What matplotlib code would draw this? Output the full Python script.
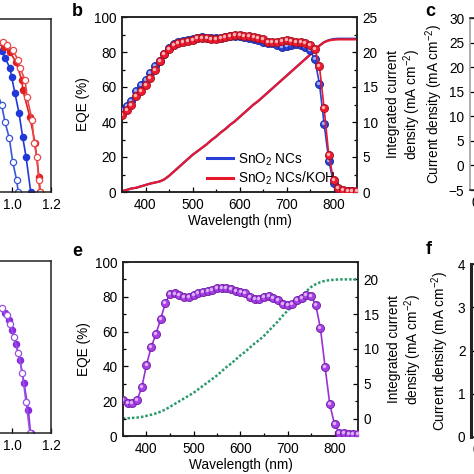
import numpy as np
import matplotlib
matplotlib.use('Agg')
import matplotlib.pyplot as plt
from matplotlib import transforms
from matplotlib.ticker import MultipleLocator

plt.rcParams['font.family'] = ['Liberation Sans', 'DejaVu Sans']
plt.rcParams['font.size'] = 9.8
plt.rcParams['mathtext.fontset'] = 'custom'
plt.rcParams['mathtext.rm'] = 'Liberation Sans'

# ---- panel a / d: J-V curves (only the high-voltage end is visible)
v_red_fwd = [0.0, 0.2, 0.4, 0.6, 0.8, 0.9, 0.96, 0.99, 1.02, 1.05, 1.056, 1.092, 1.118, 1.138, 1.145]
j_red_fwd = [22.3, 22.25, 22.2, 22.1, 21.9, 21.7, 21.0, 20.2, 18.8, 16.2, 14.7, 10.8, 7.1, 2.2, 0.0]
v_red_rev = [0.0, 0.2, 0.4, 0.6, 0.8, 0.9, 0.952, 0.974, 1.004, 1.031, 1.041, 1.067, 1.077, 1.103, 1.113, 1.128, 1.138, 1.142]
j_red_rev = [22.4, 22.35, 22.3, 22.2, 22.0, 21.9, 21.7, 21.2, 20.5, 19.1, 17.9, 16.2, 13.7, 10.4, 7.1, 5.1, 1.7, 0.0]
v_blue_fwd = [0.0, 0.2, 0.4, 0.6, 0.8, 0.9, 0.947, 0.964, 0.990, 0.998, 1.015, 1.036, 1.055, 1.072, 1.096]
j_blue_fwd = [21.8, 21.7, 21.6, 21.4, 21.2, 21.0, 20.4, 19.4, 17.9, 16.6, 14.3, 11.4, 7.9, 5.1, 0.0]
v_blue_rev = [0.0, 0.2, 0.4, 0.6, 0.8, 0.9, 0.947, 0.964, 0.986, 1.004, 1.024, 1.032]
j_blue_rev = [21.5, 21.2, 20.8, 20.0, 18.0, 16.0, 12.6, 10.1, 7.8, 4.3, 1.7, 0.0]
v_pur_fwd = [0.0, 0.2, 0.4, 0.6, 0.8, 0.9, 0.964, 0.986, 0.998, 1.019, 1.041, 1.062, 1.084, 1.095]
j_pur_fwd = [19.6, 19.55, 19.5, 19.4, 19.2, 18.9, 17.5, 16.4, 14.9, 13.0, 10.6, 7.2, 3.3, 0.0]
v_pur_rev = [0.0, 0.2, 0.4, 0.6, 0.8, 0.9, 0.947, 0.973, 0.990, 1.010, 1.032, 1.053, 1.072, 1.092]
j_pur_rev = [19.6, 19.55, 19.5, 19.4, 19.2, 18.9, 18.1, 17.1, 15.9, 13.9, 11.7, 8.7, 4.5, 0.0]
voltage_ticks = [0.0, 0.2, 0.4, 0.6, 0.8, 1.0, 1.2]
voltage_labels = ['', '', '', '', '', '1.0', '1.2']

# ---- panel b / e: EQE spectra and integrated current
wavelength = list(range(350, 860, 10))
eqe_sno2 = [47, 49, 52, 58, 61, 64, 68, 72, 75, 79, 82.5, 84.5, 85.5, 86.5, 87, 87.5, 88, 88.5, 88, 88,
            88, 88, 88.5, 89, 89, 89, 88.5, 88, 87.5, 87, 86, 85, 85, 84, 83, 83.5, 84, 84.5, 84, 83,
            81, 76, 62, 39, 18, 5, 1.5, 0.5, 0.3, 0.3, 0.3]
eqe_koh = [44, 47, 50, 55, 58, 61, 65, 70, 75, 79, 82, 84, 85, 86, 86.5, 87, 88, 88, 88, 87.5,
           87.5, 88, 88.5, 89, 89.5, 89.5, 89, 89, 88.5, 88, 87.5, 86, 85.5, 85.5, 86.5, 87, 86.5, 86, 85.5, 85,
           84, 82, 72, 48, 21, 7, 2.5, 1, 0.5, 0.5, 0.5]
jint_sno2 = [0.1, 0.3, 0.5, 0.6, 0.8, 1.0, 1.2, 1.35, 1.5, 1.8, 2.3, 2.9, 3.5, 4.1, 4.7, 5.3, 5.8, 6.3, 6.8, 7.4,
             7.9, 8.5, 9.0, 9.6, 10.1, 10.7, 11.3, 11.9, 12.5, 13.0, 13.6, 14.2, 14.8, 15.4, 16.0, 16.6, 17.2, 17.8, 18.4, 19.0,
             19.6, 20.3, 20.9, 21.4, 21.7, 21.85, 21.9, 21.9, 21.9, 21.9, 21.9]
jint_koh = [0.1, 0.3, 0.5, 0.6, 0.8, 1.0, 1.2, 1.35, 1.5, 1.8, 2.3, 2.9, 3.5, 4.1, 4.7, 5.3, 5.8, 6.3, 6.8, 7.4,
            7.9, 8.5, 9.0, 9.6, 10.1, 10.7, 11.3, 11.9, 12.5, 13.0, 13.6, 14.2, 14.8, 15.4, 16.0, 16.6, 17.2, 17.8, 18.4, 19.0,
            19.6, 20.3, 20.9, 21.4, 21.65, 21.75, 21.8, 21.8, 21.8, 21.8, 21.8]
eqe_e = [20.7, 19, 19, 20.7, 28, 41, 51, 58.6, 67, 76.4, 81.6, 81.9, 81, 80, 80, 81, 82, 83, 83.5, 84,
         85, 85, 85, 84.5, 83.5, 83, 82, 80, 79, 79, 80, 80.5, 79.5, 78, 76, 75.5, 76, 78, 79.5, 81,
         80.5, 75.5, 62, 39.6, 18.2, 6.8, 2, 1.5, 1, 1, 1]
jint_e = [0.0, 0.05, 0.1, 0.15, 0.25, 0.4, 0.55, 0.75, 1.0, 1.3, 1.7, 2.1, 2.5, 2.9, 3.3, 3.7, 4.2, 4.7, 5.2, 5.7,
          6.2, 6.8, 7.4, 7.9, 8.5, 9.1, 9.6, 10.2, 10.8, 11.3, 11.9, 12.6, 13.3, 14.0, 14.8, 15.5, 16.2, 16.9, 17.6, 18.3,
          18.9, 19.3, 19.6, 19.8, 19.9, 19.95, 20.0, 20.0, 20.0, 20.0, 20.0]

legend_labels = ['SnO$_2$ NCs', 'SnO$_2$ NCs/KOH']

W = 474.0
def box(left, top, right, bottom):
    return [left / W, (W - bottom) / W, (right - left) / W, (bottom - top) / W]

def style(ax):
    for s in ax.spines.values():
        s.set_linewidth(1.1)
        s.set_color('#222222')
    ax.tick_params(which='both', direction='in', length=3.5, width=0.9, pad=4, labelsize=9.8)
    ax.tick_params(which='minor', length=2)

def spheres(ax, x, y, color, edge, hi, size=5.8, zorder=4):
    ax.plot(x, y, 'o', ms=size, mfc=color, mec=edge, mew=0.6, zorder=zorder)
    off = transforms.offset_copy(ax.transData, fig=ax.figure, x=-0.7, y=0.7, units='points')
    ax.plot(x, y, 'o', ms=size * 0.42, mfc=hi, mec='none', alpha=0.85, transform=off, zorder=zorder + 0.1)

fig = plt.figure(figsize=(4.74, 4.74), dpi=100)

# ---- a and d (cut off at the left edge)
for pos, curves in [
    (box(-183, 19, 51, 192), [(v_blue_rev, j_blue_rev, '#3a55d8', False), (v_blue_fwd, j_blue_fwd, '#2038d8', True),
                              (v_red_fwd, j_red_fwd, '#e02020', True), (v_red_rev, j_red_rev, '#e84848', False)]),
    (box(-183, 261, 51, 433), [(v_pur_fwd, j_pur_fwd, '#8a2be2', True), (v_pur_rev, j_pur_rev, '#9a50e0', False)]),
]:
    ax = fig.add_axes(pos)
    for v, j, c, filled in curves:
        ax.plot(v, j, '-', color=c, lw=1.2, marker='o', ms=4.5,
                mfc=c if filled else 'white', mec=c, mew=0.9)
    ax.set_xlim(0, 1.2)
    ax.set_ylim(0, 25)
    ax.set_xticks(voltage_ticks, voltage_labels)
    ax.xaxis.set_minor_locator(MultipleLocator(0.1))
    ax.set_yticklabels([])
    style(ax)

# ---- b
axb = fig.add_axes(box(122, 17, 357, 192))
axb2 = axb.twinx()
axb2.plot(wavelength, jint_sno2, color='#2a3fd6', lw=1.6, zorder=2)
axb2.plot(wavelength, jint_koh, color='#e8192c', lw=1.6, zorder=3)
axb2.set_ylim(0, 25)
axb.set_zorder(axb2.get_zorder() + 1)
axb.patch.set_visible(False)
axb.plot(wavelength, eqe_sno2, color='#2a3fd6', lw=1.2, zorder=3, label=legend_labels[0])
spheres(axb, wavelength, eqe_sno2, '#2a3fd6', '#1a2a9a', '#b8c4ff')
axb.plot(wavelength, eqe_koh, color='#e8192c', lw=1.2, zorder=5, label=legend_labels[1])
spheres(axb, wavelength, eqe_koh, '#ee1c2e', '#a01020', '#ffd0d0', zorder=6)
axb.set_xlim(350, 850)
axb.set_ylim(0, 100)
axb.set_ylabel('EQE (%)', labelpad=3)
axb.set_xlabel('Wavelength (nm)', labelpad=2)
axb2.set_ylabel('Integrated current\ndensity (mA cm$^{-2}$)', labelpad=6, linespacing=1.1)
leg = axb.legend(loc='lower left', bbox_to_anchor=((207 - 122) / 235, 5 / 175), frameon=False, fontsize=9.8,
                 handlelength=1.9, handletextpad=0.4, labelspacing=0.15, borderaxespad=0, borderpad=0)
for h in leg.get_lines():
    h.set_linewidth(2.2)
for a in (axb, axb2):
    style(a)
axb.xaxis.set_major_locator(MultipleLocator(100))
axb.xaxis.set_minor_locator(MultipleLocator(50))
axb.yaxis.set_major_locator(MultipleLocator(20))
axb.yaxis.set_minor_locator(MultipleLocator(10))
axb2.yaxis.set_major_locator(MultipleLocator(5))
axb2.yaxis.set_minor_locator(MultipleLocator(2.5))

# ---- e
axe = fig.add_axes(box(123, 262, 358, 436))
axe2 = axe.twinx()
axe2.plot(wavelength, jint_e, color='#2a9a6a', lw=1.8, ls=(0, (1, 0.8)), zorder=2)
axe2.set_ylim(-2.5, 22.5)
axe.set_zorder(axe2.get_zorder() + 1)
axe.patch.set_visible(False)
axe.plot(wavelength, eqe_e, color='#9b30d9', lw=1.2, zorder=3)
spheres(axe, wavelength, eqe_e, '#a640e6', '#6a1aa0', '#e8c8ff')
axe.set_xlim(350, 850)
axe.set_ylim(0, 100)
axe.set_ylabel('EQE (%)', labelpad=3)
axe.set_xlabel('Wavelength (nm)', labelpad=2)
axe2.set_ylabel('Integrated current\ndensity (mA cm$^{-2}$)', labelpad=6, linespacing=1.1)
for a in (axe, axe2):
    style(a)
axe.xaxis.set_major_locator(MultipleLocator(100))
axe.xaxis.set_minor_locator(MultipleLocator(50))
axe.yaxis.set_major_locator(MultipleLocator(20))
axe.yaxis.set_minor_locator(MultipleLocator(10))
axe2.yaxis.set_major_locator(MultipleLocator(5))
axe2.yaxis.set_minor_locator(MultipleLocator(2.5))

# ---- c and f (cut off at the right edge)
axc = fig.add_axes(box(470, 18, 700, 190))
axc.set_ylim(-5, 30)
axc.set_xlim(-0.03, 1.2)
axc.set_xticks([0], ['0'])
axc.yaxis.set_major_locator(MultipleLocator(5))
axc.set_ylabel('Current density (mA cm$^{-2}$)', labelpad=3)
style(axc)
axc.spines['left'].set_color('#999999')

axf = fig.add_axes(box(471, 264, 700, 437))
axf.set_ylim(0, 4)
axf.set_xlim(-0.03, 1.2)
axf.set_xticks([0], ['0'])
axf.yaxis.set_major_locator(MultipleLocator(1))
axf.set_ylabel('Current density (mA cm$^{-2}$)', labelpad=5)
style(axf)
axf.spines['left'].set_linewidth(2.2)

# panel letters
for letter, x, y in [('b', 77, 11), ('e', 77, 252), ('c', 430, 12), ('f', 429, 250)]:
    fig.text(x / W, 1 - y / W, letter, fontsize=13, fontweight='bold', ha='center', va='center')

fig.savefig('out.png', dpi=100)
